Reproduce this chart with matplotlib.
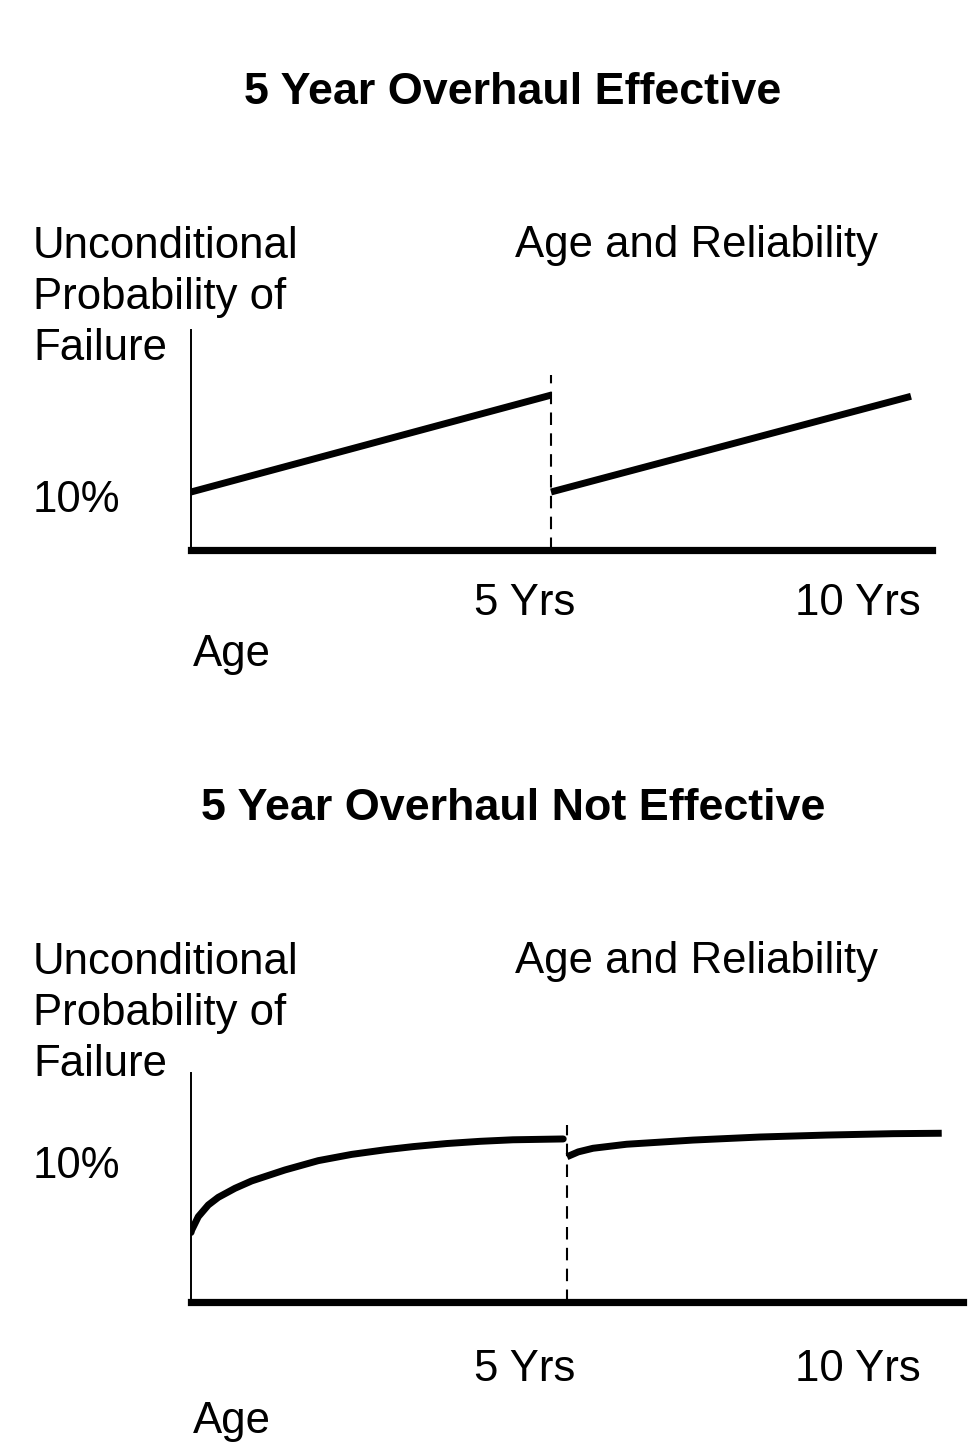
import matplotlib.pyplot as plt

plt.rcParams['font.family'] = ['Liberation Sans', 'DejaVu Sans']

W, H = 980, 1455

# -- top panel: overhaul effective (x in years, y in %)
eff_x1 = [0, 5]
eff_y1 = [10, 26.7]
eff_x2 = [5, 10]
eff_y2 = [10, 26.5]
eff_dash_top = 30.2

# -- bottom panel: overhaul not effective
ne_x1 = [0, 0.01, 0.097, 0.23, 0.363, 0.585, 0.807, 1.25, 1.693, 2.137, 2.58,
         2.956, 3.40, 3.845, 4.28, 4.95]
ne_y1 = [5.0, 5.18, 6.14, 6.98, 7.53, 8.18, 8.71, 9.50, 10.17, 10.62, 10.95,
         11.18, 11.40, 11.56, 11.67, 11.73]
ne_x2 = [5.0, 5.15, 5.346, 5.794, 6.676, 7.566, 8.453, 9.335, 9.983]
ne_y2 = [10.45, 10.8, 11.06, 11.35, 11.65, 11.87, 12.01, 12.11, 12.14]
ne_dash_top = 12.73

fig = plt.figure(figsize=(W / 100, H / 100), dpi=100)


def px_axes(left, top, right, bottom):
    return fig.add_axes([left / W, 1 - bottom / H, (right - left) / W, (bottom - top) / H])


def label(x, y, s, ha='left', size=31.5, **kw):
    fig.text(x / W, 1 - y / H, s, ha=ha, va='center', fontsize=size, **kw)


def setup(ax):
    for side in ['top', 'right']:
        ax.spines[side].set_visible(False)
    ax.spines['left'].set_linewidth(1.4)
    ax.spines['bottom'].set_linewidth(5.2)
    ax.set_xticks([])
    ax.set_yticks([])
    ax.patch.set_alpha(0)


# top
ax1 = px_axes(191, 330, 932, 550)
setup(ax1)
ax1.set_xlim(0, (932 - 191) / 72)
ax1.set_ylim(0, 220 / 5.8)
ax1.plot(eff_x1, eff_y1, color='black', lw=5, solid_capstyle='butt')
ax1.plot(eff_x2, eff_y2, color='black', lw=5, solid_capstyle='butt')
ax1.plot([5, 5], [0, eff_dash_top], color='black', lw=1.5, ls=(0, (6, 4)))

# bottom
ax2 = px_axes(191, 1073, 963, 1302)
setup(ax2)
ax2.set_xlim(0, (963 - 191) / 75.2)
ax2.set_ylim(0, 229 / 13.9)
ax2.plot(ne_x1, ne_y1, color='black', lw=5, solid_capstyle='round', solid_joinstyle='round')
ax2.plot(ne_x2, ne_y2, color='black', lw=5, solid_capstyle='butt', solid_joinstyle='round')
ax2.plot([5, 5], [0, ne_dash_top], color='black', lw=1.5, ls=(0, (6, 4)))

# texts
for dy, title in [(0, '5 Year Overhaul Effective'), (715, '5 Year Overhaul Not Effective')]:
    label(513, 93 + dy, title, ha='center', size=32.3, fontweight='bold')
for dy in [0, 716]:
    label(33, 246 + dy, 'Unconditional')
    label(33, 297 + dy, 'Probability of')
    label(33, 348 + dy, 'Failure')
    label(515, 246 + dy, 'Age and Reliability')
    label(525, 603 + dy * 1.07, '5 Yrs', ha='center')
    label(858, 603 + dy * 1.07, '10 Yrs', ha='center')
    label(193, 655 + dy * 1.07, 'Age')
label(33, 500, '10%')
label(33, 1166, '10%')

fig.savefig('out.png', dpi=100)
